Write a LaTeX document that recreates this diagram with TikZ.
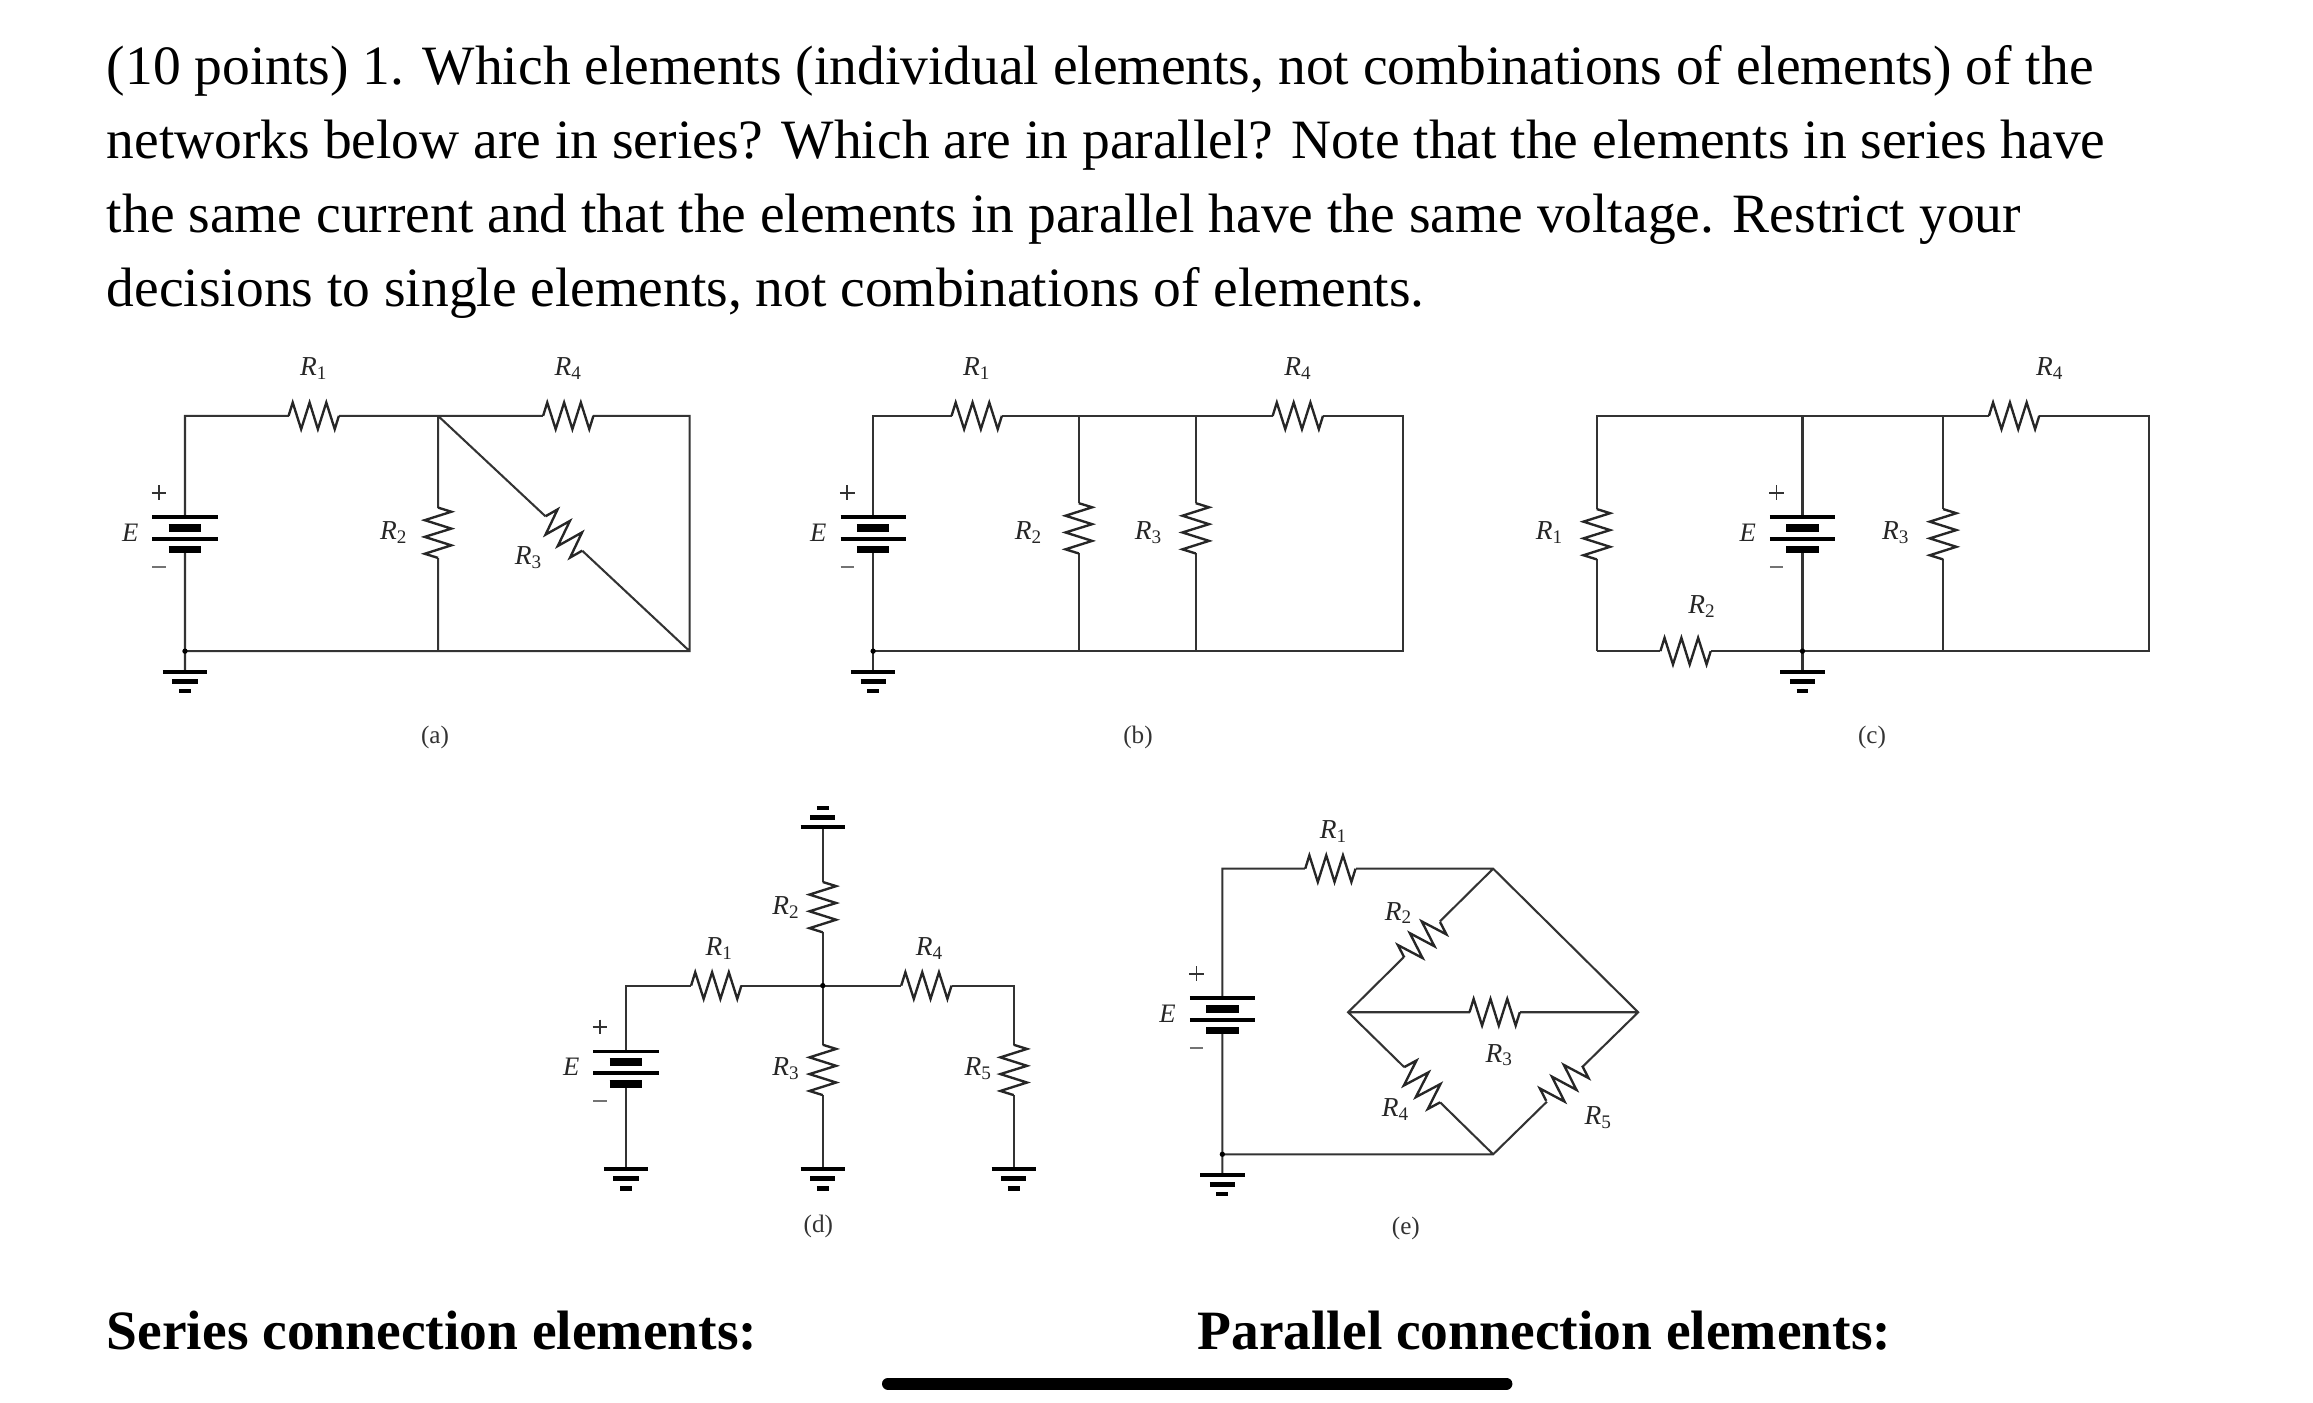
\documentclass[tikz,border=0pt]{standalone}
\usepackage{fontspec}
\setmainfont{Liberation Serif}
\newcommand\RR[1]{\textit{R}\textsubscript{#1}}
\begin{document}
\begin{tikzpicture}[x=1pt,y=-1pt,
  wire/.style={draw=black!80,line width=1.4pt},
  lab/.style={font=\fontsize{18.5}{18}\selectfont,inner sep=0pt,text=black!85},
  subcap/.style={font=\fontsize{17}{17}\selectfont,inner sep=0pt,text=black!80},
  title/.style={font=\fontsize{37.5}{40}\selectfont,anchor=base west,inner sep=0pt},
  res/.pic={\draw[white,line width=4pt] (-17,0) -- (17,0);
    \draw[black!85,line width=1.6pt,line join=miter] (-17,0) -- (-14.2,-9) -- (-8.5,9) -- (-2.8,-9) -- (2.8,9) -- (8.5,-9) -- (14.2,9) -- (17,0);},
  bat/.pic={\fill[white] (-24,-11) rectangle (24,11);
    \draw[black,line width=2.6pt] (-22,-11.5) -- (22,-11.5) (-22,3) -- (22,3);
    \draw[black,line width=5pt] (-11,-4.3) -- (11,-4.3) (-11,10.5) -- (11,10.5);
    \draw[black!80,line width=1.2pt] (-22.5,-28) -- (-12.5,-28) (-17.5,-33) -- (-17.5,-23);
    \draw[black!55,line width=1.2pt] (-22,22) -- (-13,22);
    \node[font=\fontsize{18}{18}\selectfont\itshape,inner sep=0pt,text=black!85] at (-37,-1) {E};},
  gnd/.pic={\draw[black,line width=3pt] (-15,0) -- (15,0) (-8.5,6.5) -- (8.5,6.5) (-4,13) -- (4,13);}
]
\useasboundingbox (0,0) rectangle (1563,948);
% title
\node[title] (t1) at (72,57) {(10 points) 1. Which elements (individual elements, not combinations of elements) of the};
\node[title] (t2) at (72,107) {networks below are in series? Which are in parallel? Note that the elements in series have};
\node[title] (t3) at (72,157) {the same current and that the elements in parallel have the same voltage. Restrict your};
\node[title] (t4) at (72,207) {decisions to single elements, not combinations of elements.};

% ---------- (a)
\coordinate (a1) at (125,281); \coordinate (a2) at (296,281); \coordinate (a3) at (466,281);
\coordinate (a4) at (125,440); \coordinate (a5) at (296,440); \coordinate (a6) at (466,440);
\coordinate (ag) at (125,454);
\draw[wire] (a4) -- (a1) -- (a3) -- (a6) -- (a4) (a2) -- (a5) (a2) -- (a6) (a4) -- (ag);
\fill[black] (a4) circle (1.8);
\pic at (212,281) {res}; \pic at (384,281) {res};
\pic[rotate=90] at (296,360) {res};
\pic[rotate=-43.1] at (381,360.5) {res};
\pic at (125,361) {bat}; \pic at (ag) {gnd};
\node[lab] (aR1) at (212,249) {\RR1}; \node[lab] (aR4) at (384,249) {\RR4};
\node[lab] (aR2) at (266,360) {\RR2}; \node[lab] (aR3) at (357,377) {\RR3};
\node[subcap] (acap) at (294,498) {(a)};

% ---------- (b)
\coordinate (b1) at (590,281); \coordinate (b2) at (729,281); \coordinate (b3) at (808,281); \coordinate (b4) at (948,281);
\coordinate (b5) at (590,440); \coordinate (b6) at (729,440); \coordinate (b7) at (808,440); \coordinate (b8) at (948,440);
\coordinate (bg) at (590,454);
\draw[wire] (b5) -- (b1) -- (b4) -- (b8) -- (b5) (b2) -- (b6) (b3) -- (b7) (b5) -- (bg);
\fill[black] (b5) circle (1.8);
\pic at (660,281) {res}; \pic at (877,281) {res};
\pic[rotate=90] at (729,357) {res}; \pic[rotate=90] at (808,357) {res};
\pic at (590,361) {bat}; \pic at (bg) {gnd};
\node[lab] (bR1) at (660,249) {\RR1}; \node[lab] (bR4) at (877,249) {\RR4};
\node[lab] (bR2) at (695,360) {\RR2}; \node[lab] (bR3) at (776,360) {\RR3};
\node[subcap] (bcap) at (769,498) {(b)};

% ---------- (c)
\coordinate (c1) at (1079,281); \coordinate (c2) at (1218,281); \coordinate (c3) at (1313,281); \coordinate (c4) at (1452,281);
\coordinate (c5) at (1079,440); \coordinate (c6) at (1218,440); \coordinate (c7) at (1313,440); \coordinate (c8) at (1452,440);
\coordinate (cg) at (1218,454);
\draw[wire] (c5) -- (c1) -- (c4) -- (c8) -- (c5) (c2) -- (c6) (c3) -- (c7) (c6) -- (cg);
\fill[black] (c6) circle (1.8);
\pic at (1361,281) {res}; \pic at (1139,440) {res};
\pic[rotate=90] at (1079,361) {res}; \pic[rotate=90] at (1313,361) {res};
\pic at (1218,361) {bat}; \pic at (cg) {gnd};
\node[lab] (cR4) at (1385,249) {\RR4}; \node[lab] (cR2) at (1150,410) {\RR2};
\node[lab] (cR1) at (1047,360) {\RR1}; \node[lab] (cR3) at (1281,360) {\RR3};
\node[subcap] (ccap) at (1265,498) {(c)};

% ---------- (d)
\coordinate (d1) at (423,666); \coordinate (d2) at (556,666); \coordinate (d3) at (685,666);
\coordinate (dgt) at (556,559); \coordinate (dg1) at (423,790); \coordinate (dg2) at (556,790); \coordinate (dg3) at (685,790);
\draw[wire] (dg1) -- (d1) -- (d3) -- (dg3) (dgt) -- (dg2);
\fill[black] (d2) circle (1.8);
\pic at (484,666) {res}; \pic at (626,666) {res};
\pic[rotate=90] at (556,613) {res}; \pic[rotate=90] at (556,723) {res}; \pic[rotate=90] at (685,723) {res};
\pic at (423,722) {bat};
\pic at (dg1) {gnd}; \pic at (dg2) {gnd}; \pic at (dg3) {gnd}; \pic[yscale=-1] at (dgt) {gnd};
\node[lab] (dR1) at (486,641) {\RR1}; \node[lab] (dR4) at (628,641) {\RR4};
\node[lab] (dR2) at (531,613) {\RR2}; \node[lab] (dR3) at (531,722) {\RR3}; \node[lab] (dR5) at (661,722) {\RR5};
\node[subcap] (dcap) at (553,829) {(d)};

% ---------- (e)
\coordinate (e1) at (826,587); \coordinate (eT) at (1009,587); \coordinate (eL) at (911,684);
\coordinate (eR) at (1107,684); \coordinate (eB) at (1009,780); \coordinate (e2) at (826,780);
\coordinate (eg) at (826,794);
\draw[wire] (e2) -- (e1) -- (eT) -- (eR) -- (eB) -- (e2) (eT) -- (eL) -- (eB) (eL) -- (eR) (e2) -- (eg);
\fill[black] (e2) circle (1.8);
\pic at (899,587) {res}; \pic at (1010,684) {res};
\pic[rotate=44.7] at (961,635) {res}; \pic[rotate=-44.4] at (961,733) {res}; \pic[rotate=44.4] at (1057,732) {res};
\pic at (826,686) {bat}; \pic at (eg) {gnd};
\node[lab] (eR1) at (901,562) {\RR1}; \node[lab] (eR2) at (945,617) {\RR2};
\node[lab] (eR3) at (1013,713) {\RR3}; \node[lab] (eR4) at (943,750) {\RR4}; \node[lab] (eR5) at (1080,755) {\RR5};
\node[subcap] (ecap) at (950,830) {(e)};

% bottom
\node[font=\fontsize{37.5}{40}\selectfont\bfseries,anchor=base west,inner sep=0pt] (s) at (72,912) {Series connection elements:};
\node[font=\fontsize{37.5}{40}\selectfont\bfseries,anchor=base west,inner sep=0pt] (p) at (809,912) {Parallel connection elements:};
\draw[black,line width=8pt,line cap=round] (600,935) -- (1018,935);
\end{tikzpicture}
\end{document}
